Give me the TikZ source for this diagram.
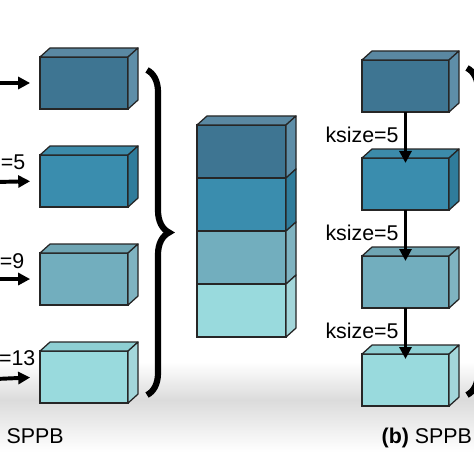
\documentclass[tikz,border=0pt]{standalone}
\usepackage{fontspec}
\setmainfont{Liberation Sans}
\usepackage{tikz}
\usetikzlibrary{
  positioning,
  arrows.meta,
  decorations.pathreplacing,
  calc
}
\definecolor{cAf}{HTML}{3E7592}
\definecolor{cAt}{HTML}{5A88A2}
\definecolor{cAs}{HTML}{5E8EA8}
\definecolor{cBf}{HTML}{3A8DAE}
\definecolor{cBt}{HTML}{3C8BAA}
\definecolor{cBs}{HTML}{2F7C9B}
\definecolor{cCf}{HTML}{72AEBE}
\definecolor{cCt}{HTML}{6FA5B3}
\definecolor{cCs}{HTML}{7FB3C1}
\definecolor{cDf}{HTML}{99DADD}
\definecolor{cDt}{HTML}{8ECFD3}
\definecolor{cDs}{HTML}{A3D6DA}
\newcommand{\topface}[2]{\draw[face, fill=#2] (#1.north west) -- ++(10,-9) -- ($(#1.north east)+(10,-9)$) -- (#1.north east) -- cycle;}
\newcommand{\sideface}[2]{\draw[face, fill=#2] (#1.north east) -- ++(10,-9) -- ($(#1.south east)+(10,-9)$) -- (#1.south east) -- cycle;}

\begin{document}
\begin{tikzpicture}[
    x=0.025cm, y=-0.025cm,
    blk/.style={draw=black!85, line width=0.9pt, outer sep=0pt, inner sep=0pt,
                minimum width=2.2cm, minimum height=1.3cm},
    face/.style={draw=black!85, line width=0.9pt, line join=round},
    arr/.style={line width=2.8pt, -{Triangle[length=8.5pt, width=8.5pt]}},
    lbl/.style={font=\fontsize{15.2pt}{18pt}\selectfont, inner sep=1pt},
    brc/.style={line width=4.4pt, decorate, decoration={brace, amplitude=0.55cm}},
    node distance=1.15cm
]
    \useasboundingbox (0,0) rectangle (474,474);
    \clip (0,0) rectangle (474,474);

    % 底部阴影
    \shade[top color=white, bottom color=black!14] (0,362) rectangle (474,400);
    \shade[top color=black!14, bottom color=white] (0,400) rectangle (474,452);

    % 左列
    \node[blk, fill=cAf] (l1) at (84,83) {};
    \node[blk, fill=cBf, below=of l1] (l2) {};
    \node[blk, fill=cCf, below=of l2] (l3) {};
    \node[blk, fill=cDf, below=of l3] (l4) {};
    \topface{l1}{cAt} \sideface{l1}{cAs}
    \topface{l2}{cBt} \sideface{l2}{cBs}
    \topface{l3}{cCt} \sideface{l3}{cCs}
    \topface{l4}{cDt} \sideface{l4}{cDs}

    \coordinate (a1) at (-4,83);
    \coordinate (a2) at (-4,182);
    \coordinate (a3) at (-4,279);
    \coordinate (a4) at (-4,379);
    \draw[arr, shorten >=7pt] (a1) -- (l1.west);
    \draw[arr, shorten >=7pt] (a2) -- (l2.west);
    \draw[arr, shorten >=7pt] (a3) -- (l3.west);
    \draw[arr, shorten >=7pt] (a4) -- (l4.west);
    \node[lbl, anchor=east] (k2) at (27,162) {=5};
    \node[lbl, anchor=east] (k3) at (26,261) {=9};
    \node[lbl, anchor=east] (k4) at (37,358) {=13};

    \draw[brc] (147,70) -- (147,395);

    % 中间拼接
    \node[blk, fill=cAf, minimum width=2.225cm, minimum height=1.325cm] (s1) at (241.5,151.5) {};
    \node[blk, fill=cBf, minimum width=2.225cm, minimum height=1.325cm, below=0pt of s1] (s2) {};
    \node[blk, fill=cCf, minimum width=2.225cm, minimum height=1.325cm, below=0pt of s2] (s3) {};
    \node[blk, fill=cDf, minimum width=2.225cm, minimum height=1.325cm, below=0pt of s3] (s4) {};
    \topface{s1}{cAt}
    \sideface{s1}{cAs} \sideface{s2}{cBs} \sideface{s3}{cCs} \sideface{s4}{cDs}

    % 右列
    \node[blk, fill=cAf, minimum width=2.175cm] (r1) at (405.5,86) {};
    \node[blk, fill=cBf, minimum width=2.175cm, below=of r1] (r2) {};
    \node[blk, fill=cCf, minimum width=2.175cm, below=of r2] (r3) {};
    \node[blk, fill=cDf, minimum width=2.175cm, below=of r3] (r4) {};
    \topface{r1}{cAt} \sideface{r1}{cAs}
    \topface{r2}{cBt} \sideface{r2}{cBs}
    \topface{r3}{cCt} \sideface{r3}{cCs}
    \topface{r4}{cDt} \sideface{r4}{cDs}

    \draw[arr, shorten >=-3.5pt] (r1.south) -- (r2.north) node[lbl, midway, left, inner sep=3.5pt] (q1) {ksize=5};
    \draw[arr, shorten >=-3.5pt] (r2.south) -- (r3.north) node[lbl, midway, left, inner sep=3.5pt] (q2) {ksize=5};
    \draw[arr, shorten >=-3.5pt] (r3.south) -- (r4.north) node[lbl, midway, left, inner sep=3.5pt] (q3) {ksize=5};

    \draw[brc] (467,68) -- (467,395);

    % 标题
    \node[lbl, anchor=base west] (t1) at (5,443) {SPPB};
    \node[lbl, anchor=base west] (t2) at (380,443) {\textbf{(b)} SPPB};
\end{tikzpicture}
\end{document}
